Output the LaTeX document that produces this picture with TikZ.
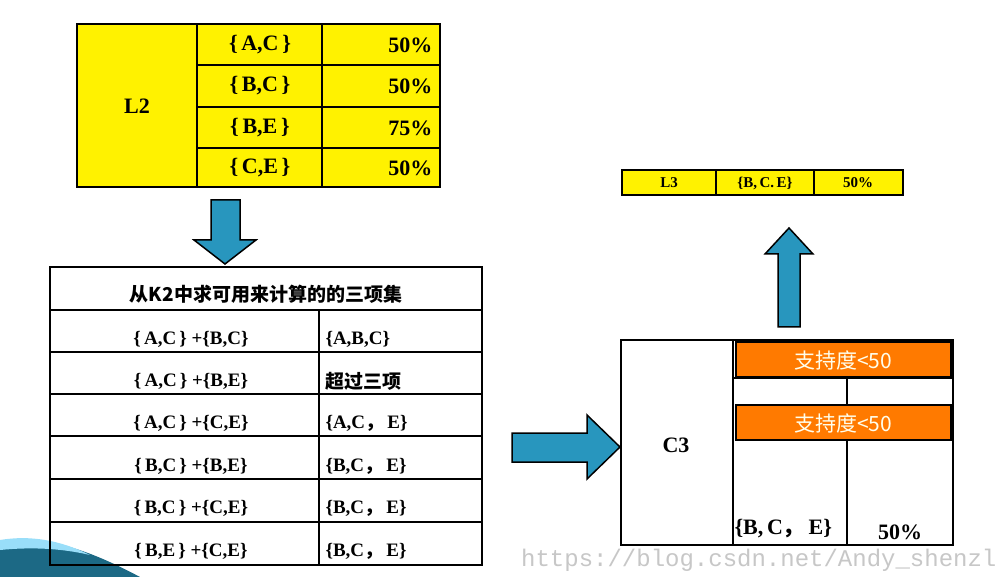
\documentclass[tikz,border=0pt]{standalone}
\usepackage{fontspec}
\setmainfont{Liberation Serif}
\newfontfamily\cjk{Noto Sans CJK SC}
\newfontfamily\mono{Liberation Mono}
\newcommand{\fc}{{\cjk ，}}
\definecolor{teal1}{RGB}{40,150,190}
\begin{document}
\begin{tikzpicture}[x=1pt,y=-1pt,
  cell/.style={draw=black,line width=1.2pt},
  ylw/.style={cell,fill=yellow},
  txt/.style={font=\fontsize{22}{24}\selectfont\bfseries},
  ttxt/.style={font=\fontsize{19}{21}\selectfont\bfseries},
  arr/.style={draw=black,line width=1.5pt,fill=teal1},
  org/.style={draw=black,line width=2pt,fill=orange!90!red!95!yellow}]
\useasboundingbox (0,0) rectangle (1007,577);
\fill[white] (0,0) rectangle (1007,577);
% swoosh
\fill[teal1!70!black] (0,545) .. controls (40,535) and (80,545) .. (140,577) -- (0,577) -- cycle;
\fill[cyan!40!white] (0,540) .. controls (30,535) and (60,540) .. (90,555) .. controls (60,548) and (30,547) .. (0,550) -- cycle;
% L2 table
\draw[ylw] (77,24) rectangle (440,187);
\draw[cell] (197,24) -- (197,187) (322,24) -- (322,187);
\foreach \y in {65,107,148} \draw[cell] (197,\y) -- (440,\y);
\node[txt] (l2) at (137,106) {L2};
\node[txt] (s1) at (260,45) {\{\,A,C\,\}};
\node[txt] (s2) at (260,86) {\{\,B,C\,\}};
\node[txt] (s3) at (260,128) {\{\,B,E\,\}};
\node[txt] (s4) at (260,168) {\{\,C,E\,\}};
\node[txt,anchor=east] (p1) at (436,45) {50\%};
\node[txt,anchor=east] (p2) at (436,86) {50\%};
\node[txt,anchor=east] (p3) at (436,128) {75\%};
\node[txt,anchor=east] (p4) at (436,168) {50\%};
% down arrow
\draw[arr] (211,200) -- (240,200) -- (240,240) -- (256,240) -- (225,264) -- (194,240) -- (211,240) -- cycle;
% big table
\draw[cell] (50,267) rectangle (482,565);
\draw[cell] (50,310) -- (482,310);
\draw[cell] (319,310) -- (319,565);
\foreach \y in {352,394,436,479,522} \draw[cell] (50,\y) -- (482,\y);
\node[font=\cjk\fontsize{19}{21}\selectfont\bfseries] (hd) at (266,294) {从K2中求可用来计算的的三项集};
\node[ttxt] (r1) at (191,339) {\{\,A,C\,\}\ +\{B,C\}};
\node[ttxt] (r2) at (191,381) {\{\,A,C\,\}\ +\{B,E\}};
\node[ttxt] (r3) at (191,423) {\{\,A,C\,\}\ +\{C,E\}};
\node[ttxt] (r4) at (191,466) {\{\,B,C\,\}\ +\{B,E\}};
\node[ttxt] (r5) at (191,508) {\{\,B,C\,\}\ +\{C,E\}};
\node[ttxt] (r6) at (191,551) {\{\,B,E\,\}\ +\{C,E\}};
\node[ttxt,anchor=west] (c1) at (322,339) {\{A,B,C\}};
\node[ttxt,anchor=west,font=\cjk\fontsize{19}{21}\selectfont\bfseries] (c2) at (322,381) {超过三项};
\node[ttxt,anchor=west] (c3) at (322,423) {\{A,C\fc\,E\}};
\node[ttxt,anchor=west] (c4) at (322,466) {\{B,C\fc\,E\}};
\node[ttxt,anchor=west] (c5) at (322,508) {\{B,C\fc\,E\}};
\node[ttxt,anchor=west] (c6) at (322,551) {\{B,C\fc\,E\}};
% right arrow
\draw[arr] (512,433) -- (587,433) -- (587,415) -- (620,447) -- (587,479) -- (587,462) -- (512,462) -- cycle;
% C3 table
\draw[cell] (621,340) rectangle (953,545);
\draw[cell] (733,340) -- (733,545);
\draw[cell] (733,378) -- (953,378);
\draw[cell] (847,378) -- (847,545);
\draw[org] (736,342) rectangle (951,377);
\draw[org] (736,405) rectangle (951,440);
\node[font=\cjk\fontsize{21}{22}\selectfont,text=white!92!yellow] (o1) at (843,360) {支持度<50};
\node[font=\cjk\fontsize{21}{22}\selectfont,text=white!92!yellow] (o2) at (843,423) {支持度<50};
\node[txt] (c3l) at (676,445) {C3};
\node[font=\fontsize{22}{24}\selectfont\bfseries,anchor=west] (bce) at (731,529) {\{B,\,C\fc\,E\}};
\node[font=\fontsize{22}{24}\selectfont\bfseries] (pc) at (900,532) {50\%};
% up arrow
\draw[arr] (778,327) -- (800,327) -- (800,254) -- (813,254) -- (789,228) -- (765,254) -- (778,254) -- cycle;
% L3 row
\draw[ylw] (622,170) rectangle (903,195);
\draw[cell] (716,170) -- (716,195) (814,170) -- (814,195);
\node[font=\fontsize{15}{16}\selectfont\bfseries] (l3) at (669,183) {L3};
\node[font=\fontsize{15}{16}\selectfont\bfseries] (l3s) at (765,183) {\{B,\,C.\,E\}};
\node[font=\fontsize{15}{16}\selectfont\bfseries] (l3p) at (858,183) {50\%};
% watermark
\node[font=\mono\fontsize{24}{26}\selectfont,text=black!22,anchor=east] (wm) at (1000,560) {https://blog.csdn.net/Andy\_shenzl};
\end{tikzpicture}
\end{document}
